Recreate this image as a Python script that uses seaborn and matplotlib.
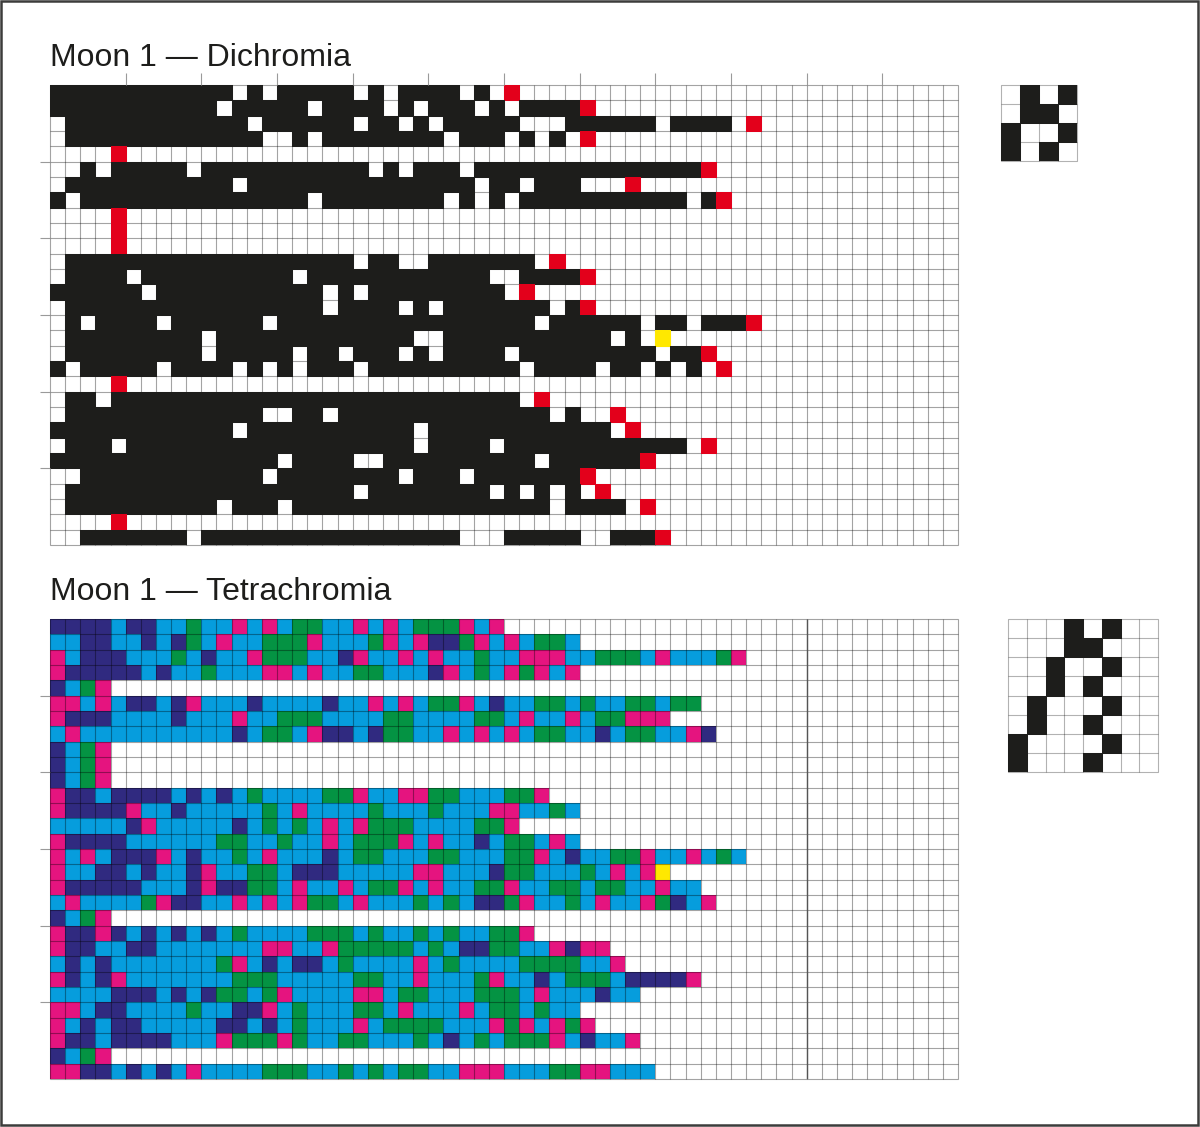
import numpy as np
import pandas as pd
import matplotlib
matplotlib.use("Agg")
import matplotlib.pyplot as plt
from matplotlib.colors import ListedColormap
from matplotlib.patches import Rectangle
import seaborn as sns

plt.rcParams['font.family'] = ['Liberation Sans', 'DejaVu Sans']

# ---------------- data ----------------
PALETTE = {'.': '#ffffff', 'K': '#1d1d1b', 'R': '#e3001b', 'Y': '#ffe800',
           'N': '#302a80', 'C': '#069ddd', 'G': '#049343', 'M': '#e5147f'}

N_COLS = 60
N_ROWS = 30

TITLE_TOP = "Moon 1 — Dichromia"
TITLE_BOTTOM = "Moon 1 — Tetrachromia"

# Dichromia grid, run-length encoded per row (symbol + count)
DICHROMIA_RLE = [
    "K12 .1 K1 .1 K5 .1 K1 .1 K4 .1 K1 .1 R1",
    "K11 .1 K5 .1 K4 .1 K1 .1 K3 .1 K1 .1 K4 R1",
    ".1 K12 .1 K6 .1 K2 .1 K1 .1 K5 .3 K6 .1 K4 .1 R1",
    ".1 K13 .2 K1 .1 K8 .1 K3 .1 K1 .1 K1 .1 R1",
    ".4 R1",
    ".2 K1 .1 K5 .1 K11 .1 K1 .1 K3 .1 K15 R1",
    ".1 K11 .1 K15 .1 K2 .1 K3 .3 R1",
    "K1 .1 K15 .1 K8 .1 K1 .1 K1 .1 K11 .1 K1 R1",
    ".4 R1",
    ".4 R1",
    ".4 R1",
    ".1 K19 .1 K2 .2 K7 .1 R1",
    ".1 K4 .1 K10 .1 K12 .2 K4 R1",
    "K6 .1 K11 .1 K1 .1 K9 .1 R1",
    ".1 K17 .1 K4 .1 K1 .1 K7 .1 K1 R1",
    ".1 K1 .1 K4 .1 K6 .1 K17 .1 K6 .1 K2 .1 K3 R1",
    ".1 K9 .1 K13 .2 K11 .1 K1 .1 Y1",
    ".1 K9 .1 K5 .1 K2 .1 K3 .1 K1 .1 K4 .1 K9 .1 K2 R1",
    "K1 .1 K5 .1 K4 .1 K1 .1 K1 .1 K3 .1 K10 .1 K4 .1 K2 .1 K1 .1 K1 .1 R1",
    ".4 R1",
    ".1 K2 .1 K27 .1 R1",
    ".1 K13 .2 K2 .1 K14 .1 K1 .2 R1",
    "K12 .1 K11 .1 K12 .1 R1",
    ".1 K3 .1 K19 .1 K4 .1 K12 .1 R1",
    "K15 .1 K4 .2 K10 .1 K6 R1",
    ".2 K12 .1 K8 .1 K3 .1 K7 R1",
    ".1 K19 .1 K8 .1 K1 .1 K1 .1 K1 .1 R1",
    ".1 K10 .1 K3 .1 K17 .1 K4 .1 R1",
    ".4 R1",
    ".2 K7 .1 K17 .3 K5 .2 K3 R1",
]

# Tetrachromia grid, one character per cell
TETRACHROMIA_ROWS = [
    "NNNNCNNCCGCCMCMCGGCCMCMCGGGMCM",
    "CCNNCCNCNGCMCCGGGMCCCGMCMNNGMCMCGGC",
    "MCNNNCCCGCNCCMGGGCCNMCCMCMCCGCCMMMCCGGGCMCCCGM",
    "MNNNNNCNCCGCCCMMCMCCGGCCCNMCGCMGMCM",
    "NCGM",
    "MMCMCNNCNMCCCNCCCCNCCMCMCGGMCNCCGGCGCCGGCGG",
    "MNNNCCCCNCCCMCCGGGCCCCGGCCCCGGCMCCMCGGMMM",
    "CMCCCCCCCCCCNCGGCMNNCNGGCCMCMCMCGGCCNCGGCCMN",
    "NCGM",
    "NCGM",
    "NCGM",
    "MNNCNNNNCNCNCGCCCCGGMCCMMGGCCCGGM",
    "MNNNNMCCNCCCCCGCMCCCCGCCCGCCCMMCCGC",
    "CCCCCNMCCCCCNCGCGCMCMGGGCCCCGGM",
    "MNNNNCCCCCCGGCCGCCMCGGGMCMCCNCGGCMC",
    "MCMCNNNMCNCCGCMCCCNCGGCCCGGCCCGGMCNCCGGMCCMCGC",
    "MCCNNCNCCNMCCGGCNNNCCCCCMMCCCNGGCCCGCMCMY",
    "MNNNNNCCCNMNNGGCMCCMCGGMCMCCGGMCCGGCGGCCMCC",
    "CMCCCCGMNNCCMCMCMGGCMCCCGCGCNNGMCCGCMCCMGNCM",
    "NCGM",
    "MNNMNCNCNCNCGCCCCGGGCGCCGCGCCGGM",
    "MNNCCNNCCCCCCCMMCCMGGGGGCGCNNGGCCMNMM",
    "CNCNCCCCCCCGMCNCNNCGCCCCMCGCCCCGGGGCCM",
    "MNCNMCCCCCCCGGGCCCCCGGCCMCCCGMCCNCGGGCNNNNM",
    "CCCCNNNCNCNGGCGMCCCCMMCGGCCCGGGCMCCCNCC",
    "MMCNNCCCCGCCNNMCGCCCGGCMCCCMCGGCGCC",
    "MCNCNNCCCCCNNCNCGCCCMCGGGGCCCMGMCMGM",
    "MNNCNNNNCCCMGGGMGCCGGCCCGCNCGCGGGMCNCCM",
    "NCGM",
    "MMNNCNCNCMCCCCGGGCCGCGCGGCCMMMCCCGGMMCCC",
]

# Small glyph grids at the right
GLYPH_DICHROMIA = [".K.K", ".KK.", "K..K", "K.K."]
GLYPH_TETRACHROMIA = ["...K.K..", "...KK...", "..K..K..", "..K.K...",
                      ".K...K..", ".K..K...", "K....K..", "K...K..."]

MAJOR_STEP = 5
BOTTOM_MARK_COL = 50

# ---------------- helpers ----------------
KEYS = list(PALETTE.keys())
CMAP = ListedColormap(list(PALETTE.values()))
EMPTY = KEYS.index('.')


def decode_rle(rle_rows):
    return ["".join(tok[0] * int(tok[1:]) for tok in r.split()) for r in rle_rows]


def to_frame(rows, ncols):
    codes = [[KEYS.index(ch) for ch in row.ljust(ncols, '.')[:ncols]] for row in rows]
    return pd.DataFrame(np.array(codes))


def draw_grid(ax, df, line_alpha=0.36, lw=0.8, lines_on_top=True):
    ax.set_facecolor('white')
    sns.heatmap(df, ax=ax, cmap=CMAP, vmin=-0.5, vmax=len(KEYS) - 0.5,
                mask=None if lines_on_top else (df == EMPTY),
                cbar=False, xticklabels=False, yticklabels=False,
                linewidths=0.4, linecolor='face')
    nr, nc = df.shape
    z = 3 if lines_on_top else 0.5
    ax.hlines(np.arange(nr + 1), 0, nc, colors='black', alpha=line_alpha,
              lw=lw, clip_on=False, zorder=z)
    ax.vlines(np.arange(nc + 1), 0, nr, colors='black', alpha=line_alpha,
              lw=lw, clip_on=False, zorder=z)
    for s in ax.spines.values():
        s.set_visible(False)
    ax.set_xlabel("")
    ax.set_ylabel("")


W, H = 1200, 1127
fig = plt.figure(figsize=(W / 100, H / 100), dpi=100)
fig.patch.set_facecolor('white')


def box(x0, y0, x1, y1):
    return [x0 / W, 1 - y1 / H, (x1 - x0) / W, (y1 - y0) / H]


ax_top = fig.add_axes(box(50, 85, 958, 545))
ax_bot = fig.add_axes(box(50, 619, 958, 1079))
ax_g1 = fig.add_axes(box(1001, 85, 1077, 161))
ax_g2 = fig.add_axes(box(1008, 619, 1158, 772))

top_df = to_frame(decode_rle(DICHROMIA_RLE), N_COLS)
bot_df = to_frame(TETRACHROMIA_ROWS, N_COLS)

draw_grid(ax_top, top_df, lines_on_top=False)
draw_grid(ax_bot, bot_df)
draw_grid(ax_g1, to_frame(GLYPH_DICHROMIA, len(GLYPH_DICHROMIA[0])),
          line_alpha=0.3, lines_on_top=False)
draw_grid(ax_g2, to_frame(GLYPH_TETRACHROMIA, len(GLYPH_TETRACHROMIA[0])),
          line_alpha=0.3, lines_on_top=False)

# ticks every 5 cells
ax_top.set_xticks(np.arange(MAJOR_STEP, N_COLS, MAJOR_STEP))
ax_top.set_yticks(np.arange(MAJOR_STEP, N_ROWS, MAJOR_STEP))
ax_top.tick_params(axis='x', top=True, bottom=False, labeltop=False, labelbottom=False,
                   direction='out', length=8.5, width=0.8, color='#9a9a9a')
ax_top.tick_params(axis='y', left=True, labelleft=False, direction='out',
                   length=7.2, width=0.8, color='#9a9a9a')

ax_bot.set_xticks([])
ax_bot.set_yticks(np.arange(MAJOR_STEP, N_ROWS, MAJOR_STEP))
ax_bot.tick_params(axis='y', left=True, labelleft=False, direction='out',
                   length=7.2, width=0.8, color='#9a9a9a')
ax_bot.vlines([BOTTOM_MARK_COL], 0, N_ROWS, colors='#555555', lw=1.0, zorder=4)

for a in (ax_g1, ax_g2):
    a.set_xticks([])
    a.set_yticks([])

# titles
fig.text(50 / W, 1 - 66 / H, TITLE_TOP, fontsize=23, ha='left', va='baseline',
         color='#1d1d1b')
fig.text(50 / W, 1 - 600 / H, TITLE_BOTTOM, fontsize=23, ha='left', va='baseline',
         color='#1d1d1b')

# outer frame
fig.add_artist(Rectangle((1 / W, 1 - 1125 / H), 1197 / W, 1124 / H,
                         transform=fig.transFigure, fill=False,
                         edgecolor='#3c3c3b', lw=1.8))

fig.savefig("out.png", dpi=100, facecolor='white')
